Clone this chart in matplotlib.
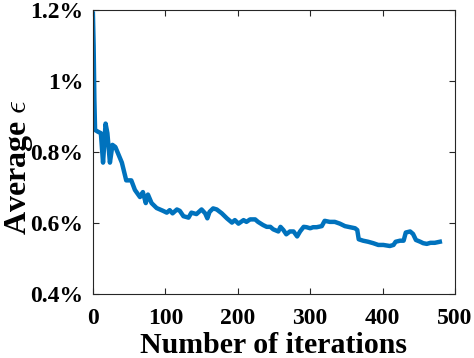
import matplotlib
matplotlib.use("Agg")
import matplotlib.pyplot as plt
from matplotlib.ticker import FuncFormatter

# averaged error (%)
iters = [0, 1, 2, 3, 7, 11, 14, 17.5, 20, 23.5, 27, 31, 40, 46, 53, 58, 65, 69,
         73, 76, 81, 88, 97, 102, 106, 110, 116, 120, 125, 132, 136, 143, 150,
         155, 158, 161, 166, 171, 178, 185, 192, 196, 201, 208, 212, 217, 224,
         228, 235, 240, 245, 249, 256, 259, 263, 267, 272, 277, 282, 286, 291,
         295, 300, 304, 309, 316, 320, 327, 334, 341, 348, 355, 362, 365, 367,
         373, 380, 387, 394, 401, 410, 415, 418, 424, 429, 432, 438, 442, 446,
         452, 456, 461, 466, 472, 479]
avg_eps = [1.19, 1.10, 0.95, 0.862, 0.857, 0.853, 0.77, 0.88, 0.853, 0.77, 0.82,
           0.814, 0.77, 0.72, 0.72, 0.693, 0.673, 0.687, 0.656, 0.68, 0.656,
           0.642, 0.634, 0.629, 0.636, 0.627, 0.638, 0.634, 0.619, 0.615, 0.629,
           0.625, 0.638, 0.627, 0.613, 0.631, 0.641, 0.638, 0.627, 0.613, 0.601,
           0.608, 0.598, 0.608, 0.603, 0.61, 0.61, 0.603, 0.594, 0.589, 0.589,
           0.582, 0.576, 0.589, 0.58, 0.568, 0.576, 0.576, 0.562, 0.576, 0.589,
           0.588, 0.585, 0.588, 0.588, 0.591, 0.606, 0.603, 0.603, 0.598, 0.591,
           0.588, 0.585, 0.58, 0.554, 0.55, 0.547, 0.543, 0.538, 0.538, 0.535,
           0.538, 0.547, 0.55, 0.55, 0.573, 0.576, 0.569, 0.552, 0.547, 0.543,
           0.541, 0.544, 0.544, 0.547]
xticks = [0, 100, 200, 300, 400, 500]
yticks = [0.4, 0.6, 0.8, 1.0, 1.2]

plt.rcParams["font.family"] = ["Liberation Serif", "DejaVu Serif"]
plt.rcParams["font.weight"] = "bold"
plt.rcParams["mathtext.fontset"] = "cm"

fig = plt.figure(figsize=(4.74, 3.58), dpi=100)
ax = fig.add_axes([0.196, 0.179, 0.764, 0.793])
ax.plot(iters, avg_eps, color="#0072BD", lw=3.2)
ax.set_xlim(0, 500)
ax.set_ylim(0.4, 1.2)
ax.set_xticks(xticks)
ax.set_yticks(yticks)
ax.yaxis.set_major_formatter(FuncFormatter(lambda v, p: f"{v:g}%"))
ax.tick_params(direction="in", top=True, right=True, labelsize=17,
               length=4, width=0.8, color="#262626")
ax.tick_params(axis="x", pad=10)
ax.tick_params(axis="y", pad=7)
for s in ax.spines.values():
    s.set_color("#262626")
    s.set_linewidth(0.8)
for lab in ax.get_xticklabels() + ax.get_yticklabels():
    lab.set_fontweight("bold")

ax.set_xlabel("Number of iterations", fontsize=21.5, fontweight="bold")
ax.xaxis.set_label_coords(0.5, -0.18)
ax.xaxis.label.set_va("center")
ax.set_ylabel(r"Average $\epsilon$", fontsize=23, fontweight="bold")
ax.yaxis.set_label_coords(-0.204, 0.447)
ax.yaxis.label.set_va("center")

fig.savefig("out.png", dpi=100)
plt.close(fig)
